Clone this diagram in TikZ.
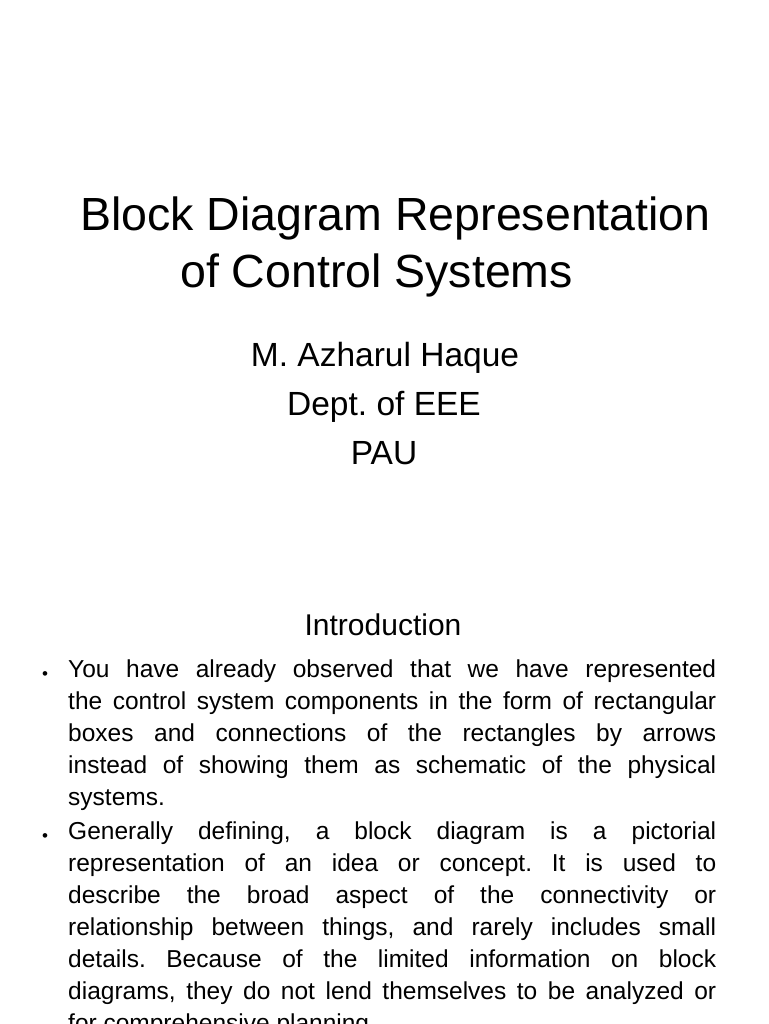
\documentclass[tikz,border=0pt]{standalone}
\usepackage{fontspec}
\setmainfont{Liberation Sans}
\frenchspacing
\tikzset{
  title/.style={anchor=base west, inner sep=0pt, font=\fontsize{46.5}{52}\selectfont},
  author/.style={anchor=base, inner sep=0pt, font=\fontsize{33.5}{38}\selectfont},
  body/.style={anchor=north west, inner sep=0pt, text width=648pt, align=justify,
    font=\fontsize{24.5}{32}\selectfont},
  dot/.style={anchor=base, inner sep=0pt, font=\fontsize{17}{20}\selectfont}
}
\begin{document}
\begin{tikzpicture}[x=1pt,y=1pt,yscale=-1]
    \useasboundingbox (0,0) rectangle (768,1024);
    \fill[white] (0,0) rectangle (768,1024);
    \node[title] (t1) at (80,231) {Block Diagram Representation};
    \node[title] (t2) at (180,287) {of Control Systems};
    \node[author] (a1) at (385,366) {M. Azharul Haque};
    \node[author] (a2) at (384,415) {Dept. of EEE};
    \node[author] (a3) at (384,464) {PAU};
    \node[anchor=base, inner sep=0pt, font=\fontsize{30}{34}\selectfont] (intro) at (383,635) {Introduction};
    \node[dot] (b1) at (45,679) {•};
    \node[body] (p1) at (68,660) {You have already observed that we have represented\linebreak
      the control system components in the form of rectangular\linebreak
      boxes and connections of the rectangles by arrows\linebreak
      instead of showing them as schematic of the physical\linebreak
      systems.};
    \node[dot] (b2) at (45,841) {•};
    \node[body] (p2) at (68,822) {Generally defining, a block diagram is a pictorial\linebreak
      representation of an idea or concept. It is used to\linebreak
      describe the broad aspect of the connectivity or\linebreak
      relationship between things, and rarely includes small\linebreak
      details. Because of the limited information on block\linebreak
      diagrams, they do not lend themselves to be analyzed or\linebreak
      for comprehensive planning.};
\end{tikzpicture}
\end{document}
